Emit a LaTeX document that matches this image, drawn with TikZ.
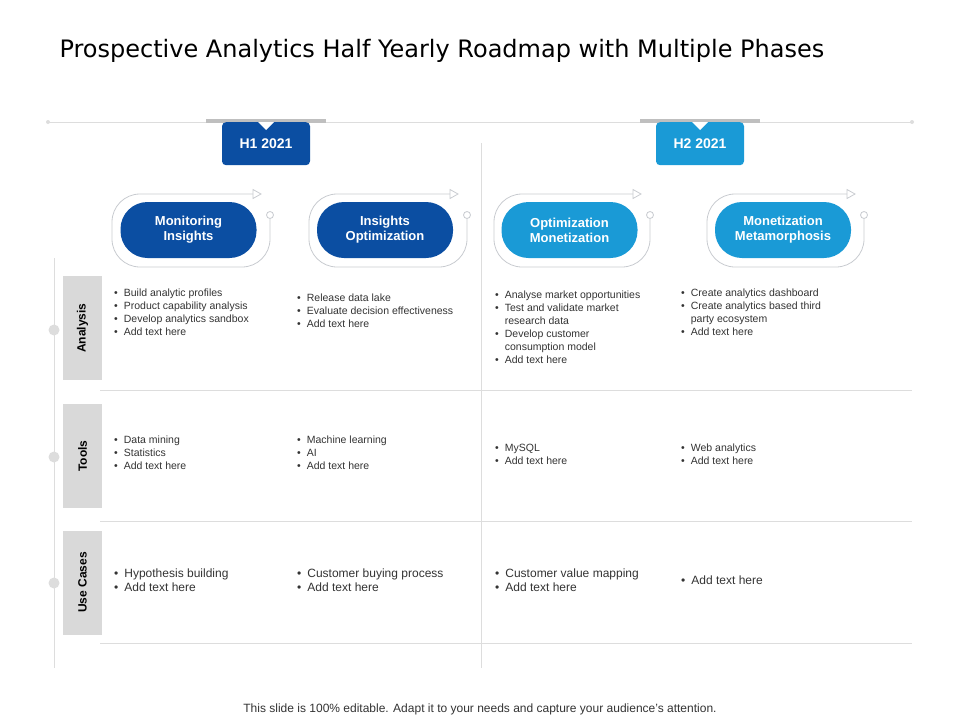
\documentclass[tikz,border=0pt]{standalone}
\usepackage{fontspec}
\setmainfont{Liberation Sans}
\newfontfamily\titlefont{DejaVu Sans}
\usepackage{array}
\definecolor{dblue}{HTML}{0B4EA2}
\definecolor{lblue}{HTML}{1A9AD6}
\definecolor{lgray}{HTML}{DDDDDD}
\definecolor{lbox}{HTML}{D9D9D9}
\definecolor{txt}{HTML}{333333}
\definecolor{outl}{HTML}{C8CBD0}
\begin{document}
\begin{tikzpicture}[x=1pt,y=-1pt,
  pill/.style={rounded corners=27pt,minimum width=136pt,minimum height=56pt,text=white,font=\bfseries\fontsize{13}{15}\selectfont,align=center},
  half/.style={rounded corners=4pt,minimum width=88pt,minimum height=43pt,text=white,font=\bfseries\fontsize{14}{16}\selectfont},
  lbl/.style={fill=lbox,minimum width=104pt,minimum height=39pt,font=\bfseries\fontsize{12}{14}\selectfont,rotate=90,text=black},
  lst/.style={anchor=north west,inner sep=0pt,text=txt,font=\fontsize{10.5}{13}\selectfont},
  lstb/.style={anchor=north west,inner sep=0pt,text=txt,font=\fontsize{12}{14}\selectfont},
  dot/.style={circle,fill=lgray,minimum size=11pt,inner sep=0pt},
  sep/.style={draw=lgray,line width=0.8pt}]
\useasboundingbox (0,0) rectangle (960,720);
\node[anchor=west,font=\titlefont\fontsize{24}{28}\selectfont] (title) at (56,51) {Prospective Analytics Half Yearly Roadmap with Multiple Phases};
% top line
\coordinate (tl) at (48,122); \coordinate (tr) at (912,122);
\draw[sep] (tl) -- (tr);
\fill[lgray] (tl) circle (2pt) (tr) circle (2pt);
% shadows
\fill[gray!50] (206,119) rectangle (326,123);
\fill[gray!50] (640,119) rectangle (760,123);
\node[half,fill=dblue,anchor=north] (h1) at (266,122) {H1 2021};
\node[half,fill=lblue,anchor=north] (h2) at (700,122) {H2 2021};
\fill[white] (258,122) -- (274,122) -- (266,130) -- cycle;
\fill[white] (692,122) -- (708,122) -- (700,130) -- cycle;
% vertical lines
\draw[sep] (481,143) -- (481,668);
\draw[sep] (54,258) -- (54,668);
\node[dot] (d1) at (54,330) {};
\node[dot] (d2) at (54,457) {};
\node[dot] (d3) at (54,583) {};
% separators
\foreach \y in {390,521,643} \draw[sep] (100,\y) -- (912,\y);
% row labels
\node[lbl] (la) at (82.5,328) {Analysis};
\node[lbl] (lt) at (82.5,456) {Tools};
\node[lbl] (lu) at (82.5,582.5) {Use Cases};
% phase outlines
\foreach \l/\r in {112/270,309/467,494/650,707/864}{
  \draw[outl,line width=0.8pt,rounded corners=28pt] (\r-17,194) -- (\l,194) -- (\l,267) -- (\r,267) -- (\r,218.5);
  \draw[outl,line width=0.8pt] (\r-17,189.5) -- (\r-9,194) -- (\r-17,198.5) -- cycle;
  \draw[outl,line width=0.8pt,fill=white] (\r,215) circle (3.5pt);
}
\node[pill,fill=dblue] (p1) at (188.5,230) {Monitoring\\Insights};
\node[pill,fill=dblue] (p2) at (385,230) {Insights\\Optimization};
\node[pill,fill=lblue] (p3) at (569.5,230) {Optimization\\Monetization};
\node[pill,fill=lblue] (p4) at (783,230) {Monetization\\Metamorphosis};
% analysis
\node[lst] (a1) at (114,287) {\begin{tabular}{@{}l@{\hspace{6pt}}l@{}}•&Build analytic profiles\\•&Product capability analysis\\•&Develop analytics sandbox\\•&Add text here\end{tabular}};
\node[lst] (a2) at (297,292) {\begin{tabular}{@{}l@{\hspace{6pt}}l@{}}•&Release data lake\\•&Evaluate decision effectiveness\\•&Add text here\end{tabular}};
\node[lst] (a3) at (495,289) {\begin{tabular}{@{}l@{\hspace{6pt}}l@{}}•&Analyse market opportunities\\•&Test and validate market\\&research data\\•&Develop customer\\&consumption model\\•&Add text here\end{tabular}};
\node[lst] (a4) at (681,287) {\begin{tabular}{@{}l@{\hspace{6pt}}l@{}}•&Create analytics dashboard\\•&Create analytics based third\\&party ecosystem\\•&Add text here\end{tabular}};
% tools
\node[lst] (t1) at (114,434) {\begin{tabular}{@{}l@{\hspace{6pt}}l@{}}•&Data mining\\•&Statistics\\•&Add text here\end{tabular}};
\node[lst] (t2) at (297,434) {\begin{tabular}{@{}l@{\hspace{6pt}}l@{}}•&Machine learning\\•&AI\\•&Add text here\end{tabular}};
\node[lst] (t3) at (495,442) {\begin{tabular}{@{}l@{\hspace{6pt}}l@{}}•&MySQL\\•&Add text here\end{tabular}};
\node[lst] (t4) at (681,442) {\begin{tabular}{@{}l@{\hspace{6pt}}l@{}}•&Web analytics\\•&Add text here\end{tabular}};
% use cases
\node[lstb] (u1) at (114,567) {\begin{tabular}{@{}l@{\hspace{6pt}}l@{}}•&Hypothesis building\\•&Add text here\end{tabular}};
\node[lstb] (u2) at (297,567) {\begin{tabular}{@{}l@{\hspace{6pt}}l@{}}•&Customer buying process\\•&Add text here\end{tabular}};
\node[lstb] (u3) at (495,567) {\begin{tabular}{@{}l@{\hspace{6pt}}l@{}}•&Customer value mapping\\•&Add text here\end{tabular}};
\node[lstb] (u4) at (681,574) {\begin{tabular}{@{}l@{\hspace{6pt}}l@{}}•&Add text here\end{tabular}};
\node[font=\fontsize{12}{14}\selectfont,text=txt] (foot) at (480,709) {This slide is 100\% editable. Adapt it to your needs and capture your audience’s attention.};
\end{tikzpicture}
\end{document}
